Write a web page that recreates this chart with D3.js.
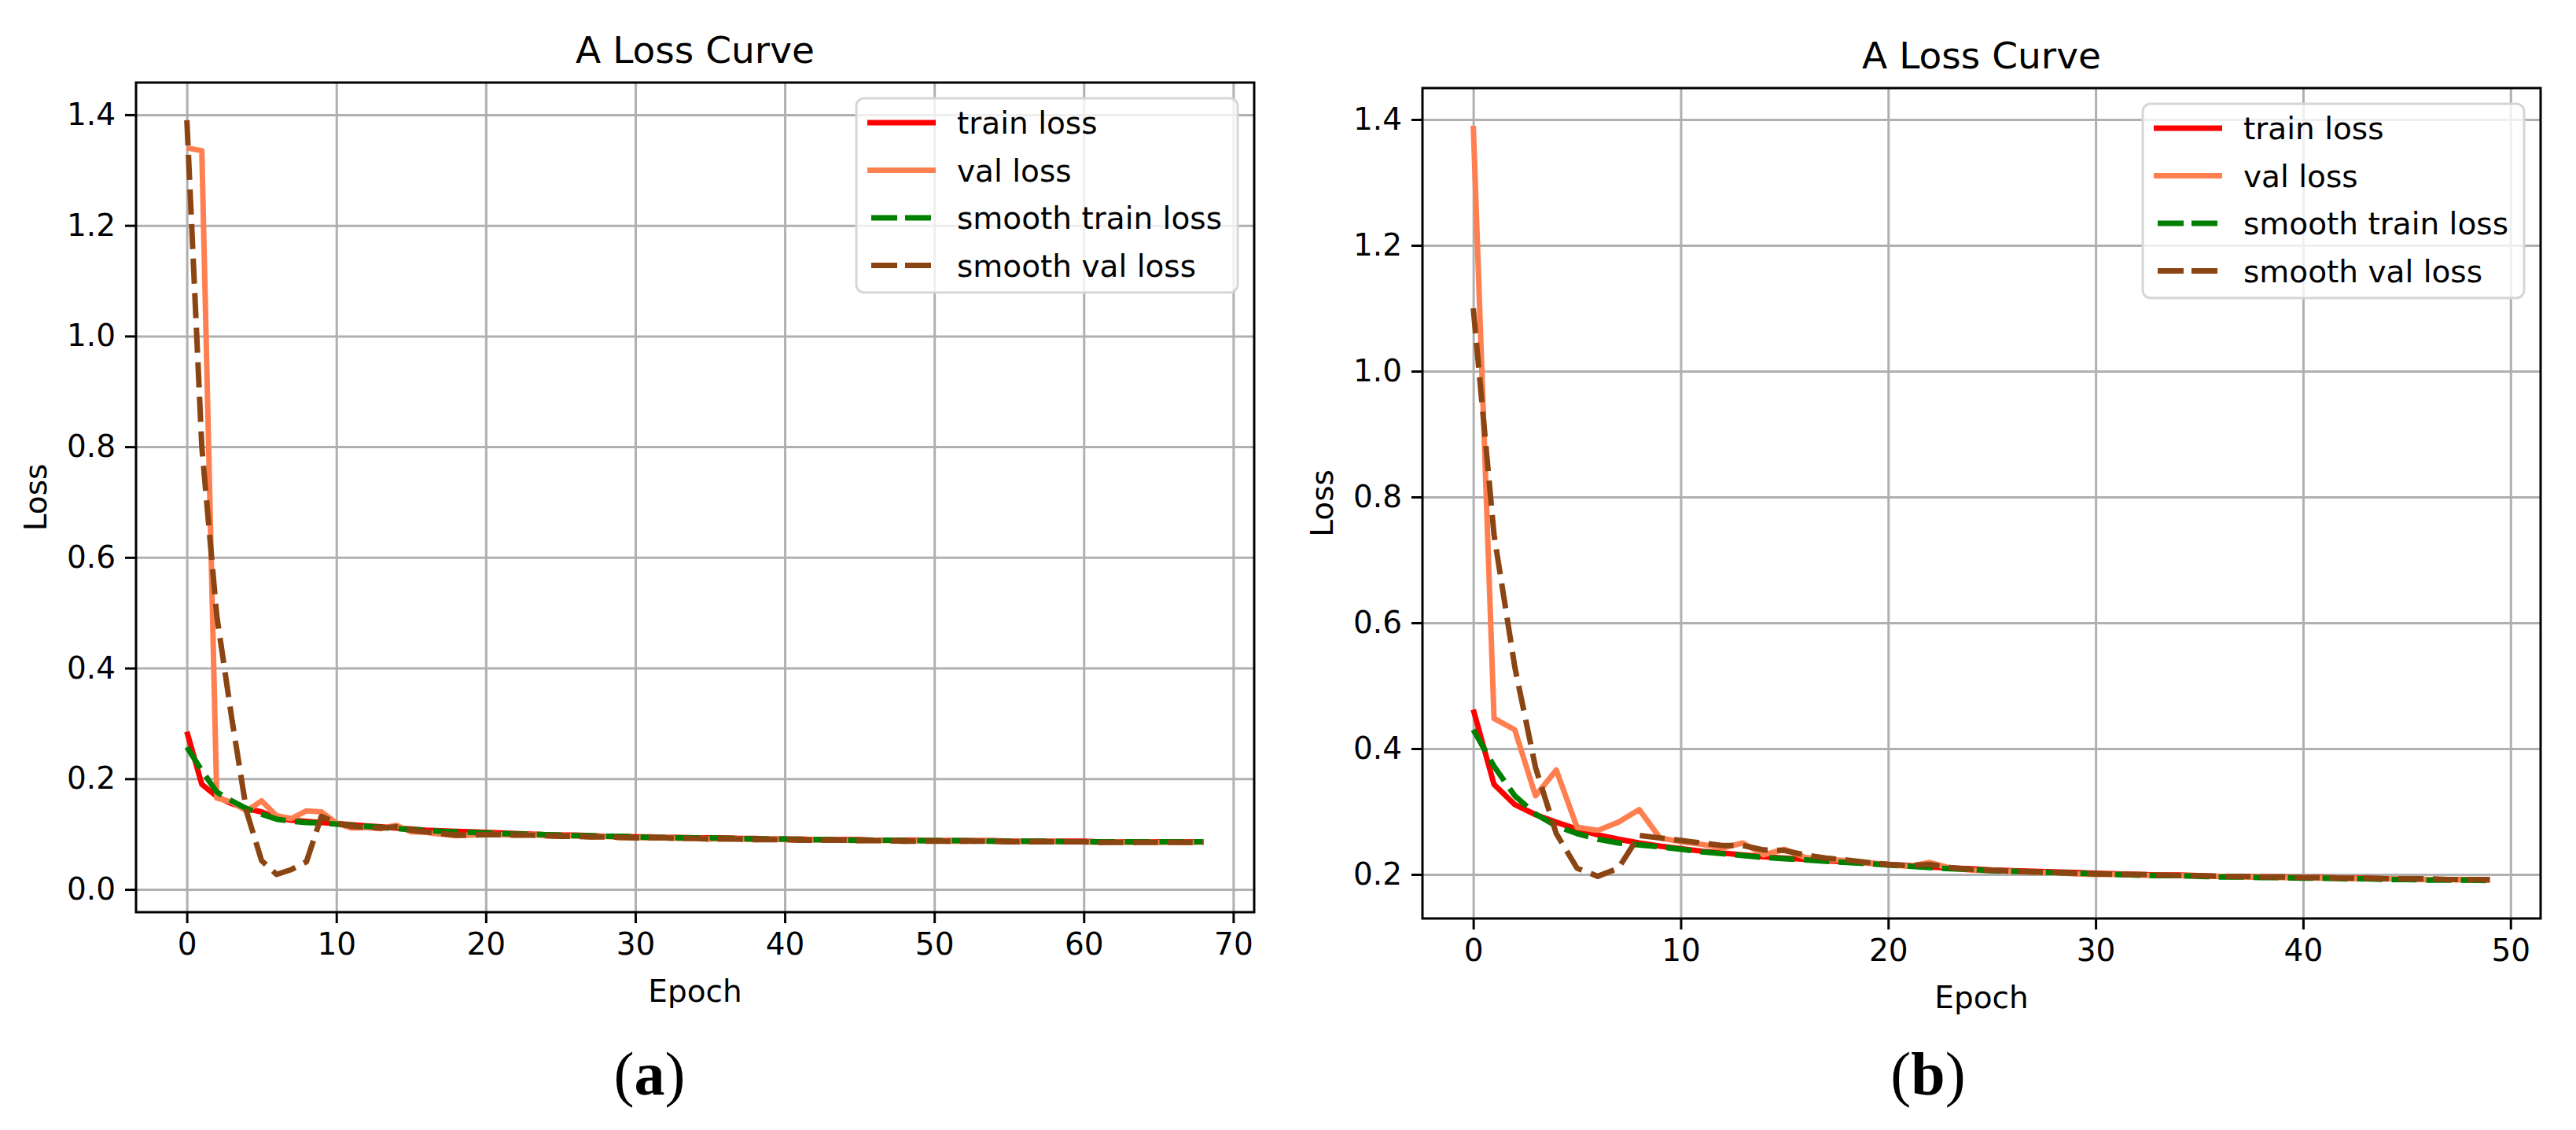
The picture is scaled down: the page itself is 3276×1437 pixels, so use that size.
<!DOCTYPE html>
<html>
<head>
<meta charset="utf-8">
<script src="https://cdn.jsdelivr.net/npm/d3@7"></script>
<style>
  body { margin: 0; background: #fff; }
  svg text { font-family: "DejaVu Sans", sans-serif; fill: #000; }
</style>
</head>
<body>
<div id="chart-holder"></div>
<script>
// Panel (a): 69 epochs
const epochsA = d3.range(0, 69);
const trainLossA = [
  0.285, 0.190, 0.168, 0.155, 0.146, 0.140, 0.129, 0.125, 0.123, 0.121,
  0.119, 0.117, 0.115, 0.113, 0.111, 0.109, 0.107, 0.106, 0.105, 0.104,
  0.103, 0.102, 0.101, 0.100, 0.099, 0.098, 0.098, 0.097, 0.096, 0.096,
  0.095, 0.095, 0.094, 0.094, 0.093, 0.093, 0.093, 0.092, 0.092, 0.091,
  0.091, 0.091, 0.090, 0.090, 0.090, 0.090, 0.089, 0.089, 0.089, 0.089,
  0.088, 0.088, 0.088, 0.088, 0.088, 0.087, 0.087, 0.087, 0.087, 0.087,
  0.087, 0.086, 0.086, 0.086, 0.086, 0.086, 0.086, 0.086, 0.086
];
const valLossA = [
  1.340, 1.335, 0.165, 0.158, 0.142, 0.160, 0.133, 0.128, 0.142, 0.140,
  0.120, 0.111, 0.112, 0.110, 0.116, 0.104, 0.103, 0.100, 0.097, 0.098,
  0.100, 0.099, 0.098, 0.099, 0.097, 0.096, 0.097, 0.095, 0.096, 0.094,
  0.093, 0.094, 0.093, 0.092, 0.093, 0.091, 0.092, 0.091, 0.090, 0.091,
  0.090, 0.089, 0.090, 0.089, 0.089, 0.088, 0.089, 0.088, 0.087, 0.088,
  0.088, 0.087, 0.087, 0.088, 0.087, 0.086, 0.087, 0.086, 0.087, 0.086,
  0.086, 0.085, 0.086, 0.085, 0.086, 0.085, 0.086, 0.085, 0.086
];
const smoothTrainA = [
  0.257, 0.215, 0.176, 0.160, 0.146, 0.136, 0.127, 0.123, 0.121, 0.120,
  0.118, 0.116, 0.114, 0.112, 0.110, 0.108, 0.107, 0.105, 0.104, 0.103,
  0.102, 0.101, 0.100, 0.100, 0.099, 0.098, 0.097, 0.097, 0.096, 0.096,
  0.095, 0.094, 0.094, 0.093, 0.093, 0.093, 0.092, 0.092, 0.091, 0.091,
  0.091, 0.090, 0.090, 0.090, 0.089, 0.089, 0.089, 0.089, 0.088, 0.088,
  0.088, 0.088, 0.088, 0.087, 0.087, 0.087, 0.087, 0.087, 0.087, 0.086,
  0.086, 0.086, 0.086, 0.086, 0.086, 0.086, 0.086, 0.086, 0.086
];
const smoothValA = [
  1.390, 0.800, 0.495, 0.310, 0.140, 0.052, 0.027, 0.036, 0.050, 0.132,
  0.120, 0.114, 0.112, 0.111, 0.113, 0.107, 0.104, 0.101, 0.098, 0.098,
  0.099, 0.099, 0.098, 0.098, 0.097, 0.096, 0.096, 0.095, 0.095, 0.094,
  0.093, 0.093, 0.093, 0.092, 0.092, 0.091, 0.091, 0.091, 0.090, 0.090,
  0.090, 0.089, 0.089, 0.089, 0.089, 0.088, 0.088, 0.088, 0.087, 0.087,
  0.087, 0.087, 0.087, 0.087, 0.087, 0.086, 0.086, 0.086, 0.086, 0.086,
  0.086, 0.085, 0.085, 0.085, 0.085, 0.085, 0.085, 0.085, 0.085
];
const xTicksA = [0, 10, 20, 30, 40, 50, 60, 70];
const yTicksA = [0.0, 0.2, 0.4, 0.6, 0.8, 1.0, 1.2, 1.4];

// Panel (b): 50 epochs
const epochsB = d3.range(0, 50);
const trainLossB = [
  0.462, 0.343, 0.311, 0.295, 0.283, 0.272, 0.263, 0.256, 0.250, 0.245,
  0.241, 0.237, 0.234, 0.231, 0.228, 0.226, 0.224, 0.222, 0.220, 0.218,
  0.216, 0.214, 0.212, 0.210, 0.209, 0.207, 0.206, 0.205, 0.204, 0.203,
  0.202, 0.201, 0.200, 0.199, 0.199, 0.198, 0.197, 0.197, 0.196, 0.196,
  0.195, 0.195, 0.194, 0.194, 0.193, 0.193, 0.192, 0.192, 0.192, 0.191
];
const valLossB = [
  1.390, 0.448, 0.430, 0.325, 0.366, 0.275, 0.270, 0.283, 0.303, 0.258,
  0.252, 0.248, 0.242, 0.250, 0.231, 0.240, 0.227, 0.224, 0.222, 0.218,
  0.215, 0.213, 0.219, 0.210, 0.207, 0.206, 0.205, 0.203, 0.203, 0.201,
  0.200, 0.200, 0.199, 0.198, 0.198, 0.197, 0.197, 0.196, 0.196, 0.195,
  0.195, 0.194, 0.194, 0.193, 0.193, 0.193, 0.192, 0.192, 0.191, 0.191
];
const smoothTrainB = [
  0.430, 0.372, 0.325, 0.296, 0.277, 0.265, 0.256, 0.250, 0.247, 0.244,
  0.240, 0.236, 0.233, 0.230, 0.227, 0.225, 0.223, 0.221, 0.219, 0.217,
  0.215, 0.213, 0.211, 0.209, 0.208, 0.206, 0.205, 0.204, 0.203, 0.202,
  0.201, 0.200, 0.199, 0.198, 0.198, 0.197, 0.196, 0.196, 0.195, 0.195,
  0.194, 0.194, 0.193, 0.193, 0.192, 0.192, 0.191, 0.191, 0.191, 0.190
];
const smoothValB = [
  1.100, 0.740, 0.530, 0.370, 0.265, 0.210, 0.197, 0.210, 0.262, 0.258,
  0.254, 0.250, 0.246, 0.246, 0.239, 0.238, 0.231, 0.226, 0.223, 0.219,
  0.216, 0.214, 0.216, 0.211, 0.208, 0.207, 0.205, 0.204, 0.203, 0.202,
  0.201, 0.200, 0.200, 0.199, 0.198, 0.198, 0.197, 0.197, 0.196, 0.196,
  0.195, 0.195, 0.194, 0.194, 0.193, 0.193, 0.193, 0.192, 0.192, 0.192
];
const xTicksB = [0, 10, 20, 30, 40, 50];
const yTicksB = [0.2, 0.4, 0.6, 0.8, 1.0, 1.2, 1.4];

const seriesNames = ["train loss", "val loss", "smooth train loss", "smooth val loss"];
const seriesColors = ["#ff0000", "#ff7f50", "#008000", "#8b4513"];
const seriesDashed = [false, false, true, true];

const width = 3276;
const height = 1437;

const svg = d3
  .select("#chart-holder")
  .append("svg")
  .attr("width", width)
  .attr("height", height);

svg.append("rect").attr("width", width).attr("height", height).attr("fill", "#fff");

// matplotlib-like limits: data extent plus 5% on each side
const padded = (lo, hi) => {
  const m = (hi - lo) * 0.05;
  return [lo - m, hi + m];
};

const drawPanel = (p) => {
  const x = d3
    .scaleLinear()
    .domain(padded(d3.min(p.epochs), d3.max(p.epochs)))
    .range([p.left, p.right]);
  const all = p.series.flat();
  const y = d3
    .scaleLinear()
    .domain(padded(d3.min(all), d3.max(all)))
    .range([p.bottom, p.top]);

  const g = svg.append("g");

  // grid
  g.append("g")
    .attr("transform", `translate(0,${p.bottom})`)
    .call(d3.axisBottom(x).tickValues(p.xTicks).tickSize(-(p.bottom - p.top)).tickFormat(""))
    .call((s) => s.select(".domain").remove())
    .selectAll("line")
    .attr("stroke", "#b0b0b0")
    .attr("stroke-width", 3);
  g.append("g")
    .attr("transform", `translate(${p.left},0)`)
    .call(d3.axisLeft(y).tickValues(p.yTicks).tickSize(-(p.right - p.left)).tickFormat(""))
    .call((s) => s.select(".domain").remove())
    .selectAll("line")
    .attr("stroke", "#b0b0b0")
    .attr("stroke-width", 3);

  // curves
  const line = d3
    .line()
    .x((d, i) => x(p.epochs[i]))
    .y((d) => y(d));
  const clipId = "clip-" + p.id;
  svg.append("clipPath").attr("id", clipId)
    .append("rect")
    .attr("x", p.left).attr("y", p.top)
    .attr("width", p.right - p.left).attr("height", p.bottom - p.top);
  const curves = g.append("g").attr("clip-path", `url(#${clipId})`);
  p.series.forEach((values, k) => {
    curves
      .append("path")
      .datum(values)
      .attr("fill", "none")
      .attr("stroke", seriesColors[k])
      .attr("stroke-width", 7)
      .attr("stroke-linejoin", "round")
      .attr("stroke-dasharray", seriesDashed[k] ? "32,12" : null)
      .attr("d", line);
  });

  // axes with outward ticks
  const xAxis = g
    .append("g")
    .attr("transform", `translate(0,${p.bottom})`)
    .call(d3.axisBottom(x).tickValues(p.xTicks).tickSize(14).tickPadding(12).tickFormat(d3.format("d")));
  const yAxis = g
    .append("g")
    .attr("transform", `translate(${p.left},0)`)
    .call(d3.axisLeft(y).tickValues(p.yTicks).tickSize(14).tickPadding(12).tickFormat(d3.format(".1f")));
  [xAxis, yAxis].forEach((a) => {
    a.select(".domain").remove();
    a.selectAll("line").attr("stroke", "#000").attr("stroke-width", 3);
    a.selectAll("text")
      .attr("font-size", 39)
      .attr("fill", "#222")
      .style("font-family", '"DejaVu Sans", sans-serif');
  });

  // spines
  g.append("rect")
    .attr("x", p.left)
    .attr("y", p.top)
    .attr("width", p.right - p.left)
    .attr("height", p.bottom - p.top)
    .attr("fill", "none")
    .attr("stroke", "#000")
    .attr("stroke-width", 3);

  // title and axis labels
  const cx = (p.left + p.right) / 2;
  g.append("text")
    .attr("x", cx)
    .attr("y", p.top - 25)
    .attr("text-anchor", "middle")
    .attr("font-size", 47)
    .text("A Loss Curve");
  g.append("text")
    .attr("x", cx)
    .attr("y", p.bottom + 114)
    .attr("text-anchor", "middle")
    .attr("font-size", 39)
    .attr("fill", "#222")
    .text("Epoch");
  g.append("text")
    .attr("transform", `translate(${p.left - 114},${(p.top + p.bottom) / 2}) rotate(-90)`)
    .attr("text-anchor", "middle")
    .attr("font-size", 39)
    .attr("fill", "#222")
    .text("Loss");

  // legend
  const lw = 485;
  const lh = 247;
  const lx = p.right - 21 - lw;
  const ly = p.top + 20;
  const legend = g.append("g");
  legend
    .append("rect")
    .attr("x", lx)
    .attr("y", ly)
    .attr("width", lw)
    .attr("height", lh)
    .attr("rx", 10)
    .attr("fill", "#fff")
    .attr("fill-opacity", 0.8)
    .attr("stroke", "#d6d6d6")
    .attr("stroke-width", 3);
  seriesNames.forEach((name, k) => {
    const ry = ly + 31 + k * 60.5;
    legend
      .append("line")
      .attr("x1", lx + 14)
      .attr("x2", lx + 101)
      .attr("y1", ry)
      .attr("y2", ry)
      .attr("stroke", seriesColors[k])
      .attr("stroke-width", 7)
      .attr("stroke-dasharray", seriesDashed[k] ? "33,10" : null)
      .attr("stroke-dashoffset", seriesDashed[k] ? -5 : null);
    legend
      .append("text")
      .attr("x", lx + 128)
      .attr("y", ry)
      .attr("dy", "0.36em")
      .attr("font-size", 39)
      .attr("fill", "#222")
      .text(name);
  });

  // sub-figure label
  const lab = svg
    .append("text")
    .attr("x", p.labelX)
    .attr("y", 1392)
    .attr("text-anchor", "middle")
    .attr("font-size", 78)
    .style("font-family", '"Liberation Serif", "DejaVu Serif", serif');
  lab.append("tspan").text("(");
  lab.append("tspan").attr("font-weight", "bold").text(p.label);
  lab.append("tspan").text(")");
};

drawPanel({
  id: "a",
  left: 173,
  right: 1595,
  top: 105,
  bottom: 1160,
  epochs: epochsA,
  series: [trainLossA, valLossA, smoothTrainA, smoothValA],
  xTicks: xTicksA,
  yTicks: yTicksA,
  label: "a",
  labelX: 826
});

drawPanel({
  id: "b",
  left: 1809,
  right: 3231,
  top: 112,
  bottom: 1168,
  epochs: epochsB,
  series: [trainLossB, valLossB, smoothTrainB, smoothValB],
  xTicks: xTicksB,
  yTicks: yTicksB,
  label: "b",
  labelX: 2452
});
</script>
</body>
</html>
